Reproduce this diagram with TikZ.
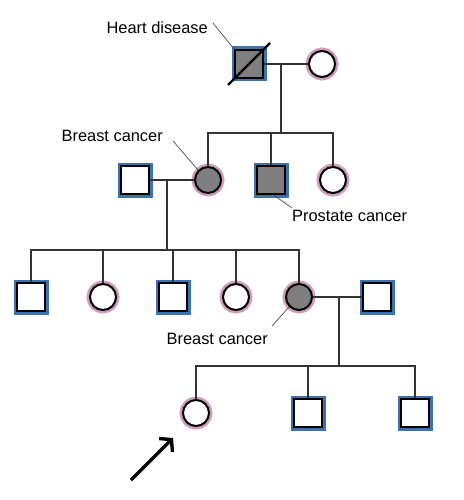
\documentclass[tikz,border=0pt]{standalone}
\usepackage{fontspec}
\setmainfont{Liberation Sans}
\usetikzlibrary{arrows.meta}
\definecolor{mblue}{HTML}{3D72AC}
\definecolor{fpink}{HTML}{D09CBD}
\definecolor{aff}{HTML}{7F7F7F}
\definecolor{lineg}{HTML}{333333}
\tikzset{
  male/.style={rectangle, minimum size=28pt, inner sep=0pt, fill=white, draw=black, line width=2pt,
    preaction={draw=mblue, line width=7pt}},
  female/.style={circle, minimum size=26pt, inner sep=0pt, fill=white, draw=black, line width=2pt,
    preaction={draw=fpink, line width=7pt}},
  affected/.style={fill=aff},
  rel/.style={draw=lineg, line width=2.2pt},
  leader/.style={draw=black!70, line width=0.7pt},
  lbl/.style={font=\fontsize{16.4}{18}\selectfont, inner sep=0pt}
}
\begin{document}
\begin{tikzpicture}[x=1pt, y=-1pt]
\useasboundingbox (0,0) rectangle (463,500);
\coordinate (m1) at (281,64);
\coordinate (s1) at (281,133);
\coordinate (m2) at (167,180);
\coordinate (s2) at (167,250);
\coordinate (m3) at (339,298);
\coordinate (s3) at (339,366);
% generation 1
\node[male, affected] (gf) at (249,64) {};
\node[female] (gm) at (322,64) {};
% generation 2
\node[male] (h2) at (135,180) {};
\node[female, affected] (b2) at (208,180) {};
\node[male, affected] (p2) at (271,180) {};
\node[female] (d2) at (333,180) {};
% generation 3
\node[male] (c31) at (31,297) {};
\node[female] (c32) at (103,297) {};
\node[male] (c33) at (173,297) {};
\node[female] (c34) at (236,297) {};
\node[female, affected] (b3) at (299,297) {};
\node[male] (h3) at (377,297) {};
% generation 4
\node[female] (c41) at (196,413) {};
\node[male] (c42) at (308,413) {};
\node[male] (c43) at (415,413) {};

% marriages and descent
\draw[rel] (gf.east) -- (gm.west);
\draw[rel] (m1) -- (s1);
\draw[rel] (b2.north) -- (b2.north |- s1) -- (d2.north |- s1) -- (d2.north);
\draw[rel] (p2.north) -- (p2.north |- s1);

\draw[rel] (h2.east) -- (b2.west);
\draw[rel] (m2) -- (s2);
\draw[rel] (c31.north) -- (c31.north |- s2) -- (b3.north |- s2) -- (b3.north);
\draw[rel] (c32.north) -- (c32.north |- s2);
\draw[rel] (c33.north) -- (c33.north |- s2);
\draw[rel] (c34.north) -- (c34.north |- s2);

\draw[rel] (b3.east) -- (h3.west);
\draw[rel] (m3) -- (s3);
\draw[rel] (c41.north) -- (c41.north |- s3) -- (c43.north |- s3) -- (c43.north);
\draw[rel] (c42.north) -- (c42.north |- s3);

% deceased slash
\draw[black, line width=2.2pt] ([shift={(-21,21)}]gf.center) -- ([shift={(21,-21)}]gf.center);

% labels
\node[lbl, anchor=east] (lh) at (208,28) {Heart disease};
\draw[leader] (213,23) -- (gf.north west);
\node[lbl, anchor=east] (lb2) at (163,136) {Breast cancer};
\draw[leader] (173,141) -- (b2.135);
\node[lbl, anchor=west] (lp) at (292,216) {Prostate cancer};
\draw[leader] (p2.-80) -- (292,208);
\node[lbl, anchor=east] (lb3) at (268,339) {Breast cancer};
\draw[leader] (272,326) -- (b3.225);

% proband arrow
\coordinate (arS) at (131,480);
\coordinate (arE) at (173,438);
\draw[black, line width=3.4pt, -{Straight Barb[length=8pt, width=19pt]}] (arS) -- (arE);
\end{tikzpicture}
\end{document}
